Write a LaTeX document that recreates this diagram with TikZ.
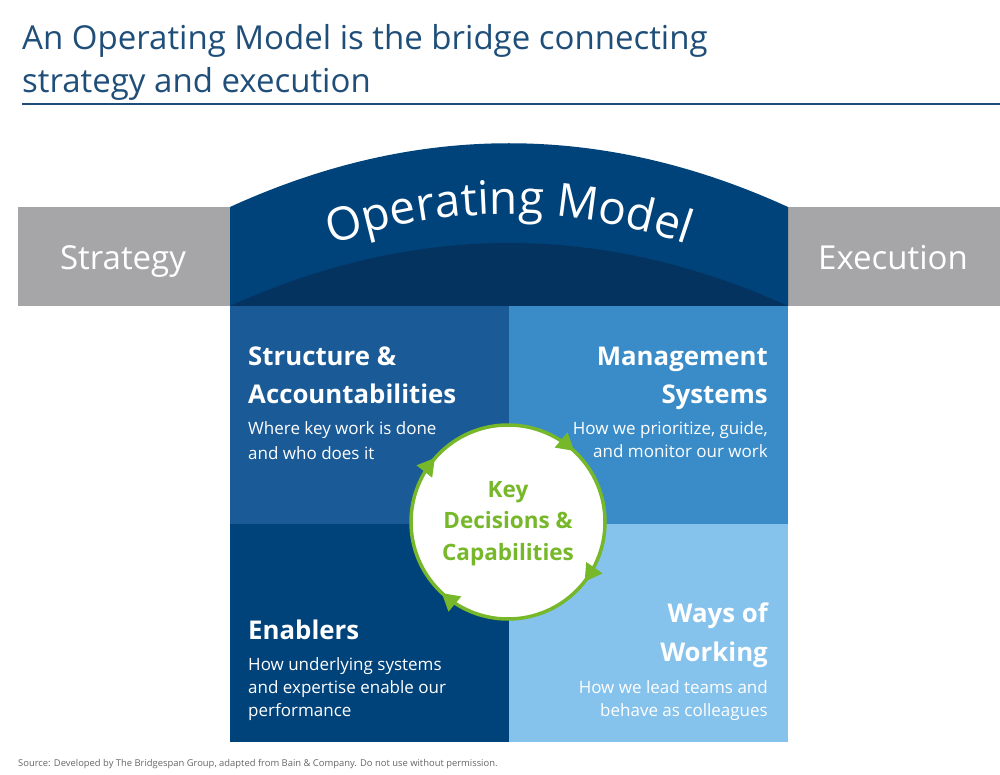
\documentclass[tikz,border=0pt]{standalone}
\usepackage{fontspec}
\setmainfont{Open Sans}
\usetikzlibrary{decorations.markings,decorations.text}
\definecolor{navy}{HTML}{1F4E79}
\definecolor{arch}{HTML}{00427A}
\definecolor{archd}{HTML}{053360}
\definecolor{qtl}{HTML}{1A5A96}
\definecolor{qtr}{HTML}{3A8CC8}
\definecolor{qbl}{HTML}{00427A}
\definecolor{qbr}{HTML}{85C2EC}
\definecolor{gbar}{HTML}{A6A6A8}
\definecolor{kgreen}{HTML}{76B82A}
\tikzset{
  head/.style={text=white,font=\fontsize{25.8}{30}\selectfont\bfseries,inner sep=0},
  sub/.style={text=white,font=\fontsize{17}{20}\selectfont,inner sep=0},
  side/.style={text=white,font=\fontsize{33}{38}\selectfont,inner sep=0},
  key/.style={text=kgreen,font=\fontsize{22.5}{26}\selectfont\bfseries,inner sep=0},
  tip/.style={decoration={markings,mark=at position #1 with {\fill[kgreen] (5,0)--(-12,10)--(-12,-10)--cycle;}},postaction=decorate}
}
\begin{document}
\begin{tikzpicture}[x=1pt,y=-1pt]
\useasboundingbox (0,0) rectangle (1000,775);
\node[anchor=base west,text=navy,font=\fontsize{33}{38}\selectfont,inner sep=0] (t1) at (22,50) {An Operating Model is the bridge connecting};
\node[anchor=base west,text=navy,font=\fontsize{33}{38}\selectfont,inner sep=0] (t2) at (22,93) {strategy and execution};
\draw[navy,line width=2.5] (22,104) -- (1000,104);
% side bars
\fill[gbar] (18,207) rectangle (230,306);
\fill[gbar] (788,207) rectangle (1000,306);
\node[side,anchor=base] (str) at (123,270) {Strategy};
\node[side,anchor=base] (exe) at (893,270) {Execution};
% arch
\fill[arch] (230,306) -- (230,207) .. controls (416,122) and (602,122) .. (788,207) -- (788,306) -- cycle;
\fill[archd] (230,306) .. controls (416,222) and (602,222) .. (788,306) -- cycle;
\path[decorate,decoration={text along path,text align=center,text={|\color{white}\fontsize{46}{52}\selectfont|Operating Model}}]
  (300,256) .. controls (438,200) and (580,200) .. (718,256);
% quadrants
\fill[qtl] (230,306) rectangle (509,524);
\fill[qtr] (509,306) rectangle (788,524);
\fill[qbl] (230,524) rectangle (509,742);
\fill[qbr] (509,524) rectangle (788,742);
\node[head,anchor=base west] (s1) at (248,365) {Structure \&};
\node[head,anchor=base west] (s2) at (248,403) {Accountabilities};
\node[sub,anchor=base west] (s3) at (248,434) {Where key work is done};
\node[sub,anchor=base west] (s4) at (248,459) {and who does it};
\node[head,anchor=base east] (m1) at (768,365) {Management};
\node[head,anchor=base east] (m2) at (768,403) {Systems};
\node[sub,anchor=base east] (m3) at (768,434) {How we prioritize, guide,};
\node[sub,anchor=base east] (m4) at (768,457) {and monitor our work};
\node[head,anchor=base west] (e1) at (248,639) {Enablers};
\node[sub,anchor=base west] (e2) at (248,670) {How underlying systems};
\node[sub,anchor=base west] (e3) at (248,693) {and expertise enable our};
\node[sub,anchor=base west] (e4) at (248,716) {performance};
\node[head,anchor=base east] (w1) at (768,622) {Ways of};
\node[head,anchor=base east] (w2) at (768,661) {Working};
\node[sub,anchor=base east] (w3) at (768,693) {How we lead teams and};
\node[sub,anchor=base east] (w4) at (768,716) {behave as colleagues};
% circle
\node[circle,fill=white,draw=kgreen,line width=3.5,minimum size=194] (c) at (508,522) {};
\path[tip=0.111] (508,425) arc[start angle=-90,end angle=270,radius=97];
\path[tip=0.347] (508,425) arc[start angle=-90,end angle=270,radius=97];
\path[tip=0.611] (508,425) arc[start angle=-90,end angle=270,radius=97];
\path[tip=0.856] (508,425) arc[start angle=-90,end angle=270,radius=97];
\node[key,anchor=base] (k1) at (508,497) {Key};
\node[key,anchor=base] (k2) at (508,528) {Decisions \&};
\node[key,anchor=base] (k3) at (508,560) {Capabilities};
\node[anchor=base west,text=gray!80!black,font=\fontsize{9.4}{11}\selectfont,inner sep=0] (src) at (18,766) {Source: Developed by The Bridgespan Group, adapted from Bain \& Company. Do not use without permission.};
\end{tikzpicture}
\end{document}
